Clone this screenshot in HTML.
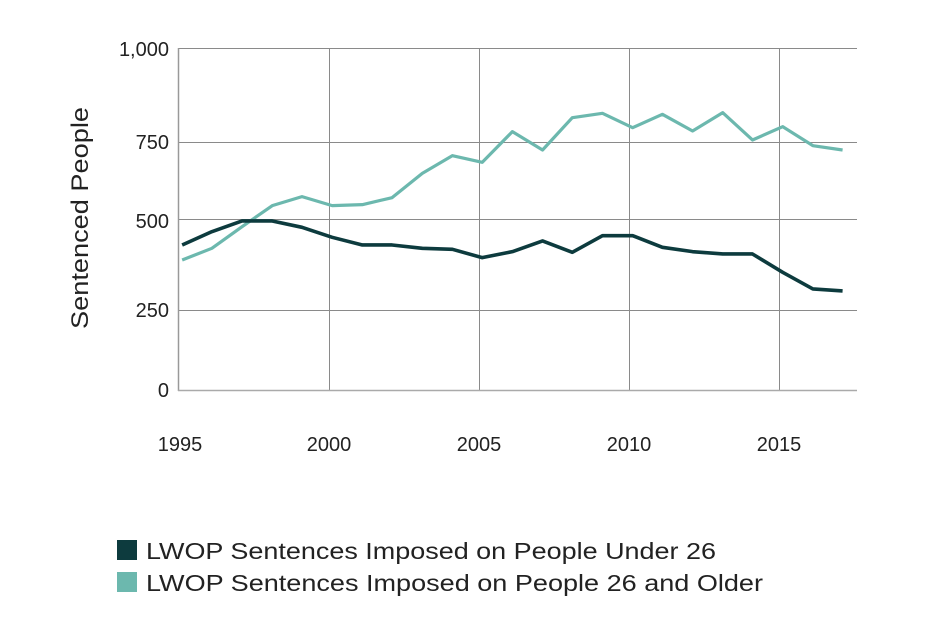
<!DOCTYPE html>
<html><head><meta charset="utf-8"><style>html,body{margin:0;padding:0;background:#fff}</style></head>
<body>
<svg width="950" height="636" viewBox="0 0 950 636" xmlns="http://www.w3.org/2000/svg" font-family="Liberation Sans, sans-serif" fill="#222">
<g stroke="#8a8a8a" stroke-width="1">
<line x1="179" y1="48.5" x2="857" y2="48.5"/>
<line x1="179" y1="142.5" x2="857" y2="142.5"/>
<line x1="179" y1="219.5" x2="857" y2="219.5"/>
<line x1="179" y1="310.5" x2="857" y2="310.5"/>
<line x1="329.5" y1="48" x2="329.5" y2="391"/>
<line x1="479.5" y1="48" x2="479.5" y2="391"/>
<line x1="629.5" y1="48" x2="629.5" y2="391"/>
<line x1="779.5" y1="48" x2="779.5" y2="391"/>
</g>
<line x1="178.5" y1="48" x2="178.5" y2="391" stroke="#999" stroke-width="1.5"/>
<line x1="178" y1="390.5" x2="857" y2="390.5" stroke="#aaa" stroke-width="1.5"/>
<g font-size="20" text-anchor="end">
<text x="169" y="56">1,000</text>
<text x="169" y="149">750</text>
<text x="169" y="228">500</text>
<text x="169" y="317">250</text>
<text x="169" y="397">0</text>
</g>
<g font-size="20" text-anchor="middle">
<text x="180" y="451">1995</text>
<text x="329" y="451">2000</text>
<text x="479" y="451">2005</text>
<text x="629" y="451">2010</text>
<text x="779" y="451">2015</text>
</g>
<text transform="translate(88,218) rotate(-90)" font-size="24" text-anchor="middle" textLength="222" lengthAdjust="spacingAndGlyphs">Sentenced People</text>
<g transform="matrix(0.4505,0,0,0.3333,160.98,30)" fill="none" stroke-linejoin="round">
<polyline vector-effect="non-scaling-stroke" stroke="#6cb8ae" stroke-width="3.2" points="47,690 113,655 180,590 247,527 313,500 380,527 447,524 513,503 580,430 647,377 713,397 780,305 847,360 913,263 980,250 1047,293 1113,253 1180,303 1247,248 1313,330 1380,290 1447,347 1513,360"/>
<polyline vector-effect="non-scaling-stroke" stroke="#0d3b3e" stroke-width="3.6" points="47,645 113,605 180,573 247,573 313,592 380,622 447,645 513,645 580,655 647,658 713,683 780,665 847,633 913,667 980,617 1047,617 1113,652 1180,665 1247,672 1313,672 1380,727 1447,777 1513,783"/>
</g>
<rect x="117" y="540" width="20" height="20" fill="#0d3b3e"/>
<rect x="117" y="572" width="20" height="20" fill="#6cb8ae"/>
<text x="146" y="559" font-size="23" textLength="570" lengthAdjust="spacingAndGlyphs">LWOP Sentences Imposed on People Under 26</text>
<text x="146" y="591" font-size="23" textLength="617" lengthAdjust="spacingAndGlyphs">LWOP Sentences Imposed on People 26 and Older</text>
</svg>
</body></html>
